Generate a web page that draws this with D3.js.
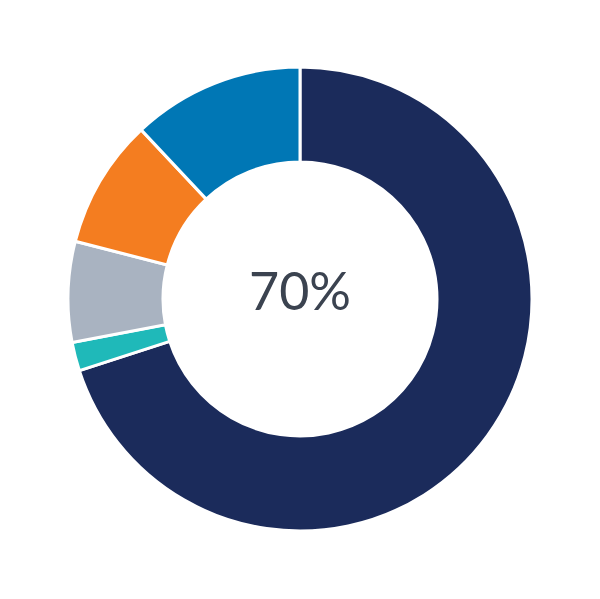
<!DOCTYPE html>
<html>
<head>
<meta charset="utf-8">
<script src="https://cdn.jsdelivr.net/npm/d3@7"></script>
<style>
  html, body { margin: 0; padding: 0; background: #fff; }
</style>
</head>
<body>
<script>
// slices clockwise from 12 o'clock
var labels = ["A", "B", "C", "D", "E"];
var values = [70, 2, 7, 9, 12];
var colors = ["#1b2b5b", "#1fb9b9", "#a9b3c1", "#f47d20", "#0077b5"];
var centerLabel = "70%";

var w = 600, h = 599;
var cx = 300, cy = 299;
var outerR = 232, innerR = 137;

var svg = d3.select("body")
    .append("svg")
    .attr("width", w)
    .attr("height", h);

var g = svg.append("g")
    .attr("transform", "translate(" + cx + "," + cy + ")");

var pie = d3.pie()
    .sort(null)
    .value(function(d) { return d; });

var arc = d3.arc()
    .innerRadius(innerR)
    .outerRadius(outerR);

g.selectAll("path")
    .data(pie(values))
    .enter()
    .append("path")
    .attr("d", arc)
    .attr("fill", function(d, i) { return colors[i]; })
    .attr("stroke", "#fff")
    .attr("stroke-width", 3)
    .attr("stroke-linejoin", "miter");

g.append("text")
    .text(centerLabel)
    .attr("x", 0)
    .attr("y", 11)
    .attr("text-anchor", "middle")
    .attr("font-family", "Lato, sans-serif")
    .attr("font-size", "52px")
    .attr("fill", "#3b4350");
</script>
</body>
</html>
